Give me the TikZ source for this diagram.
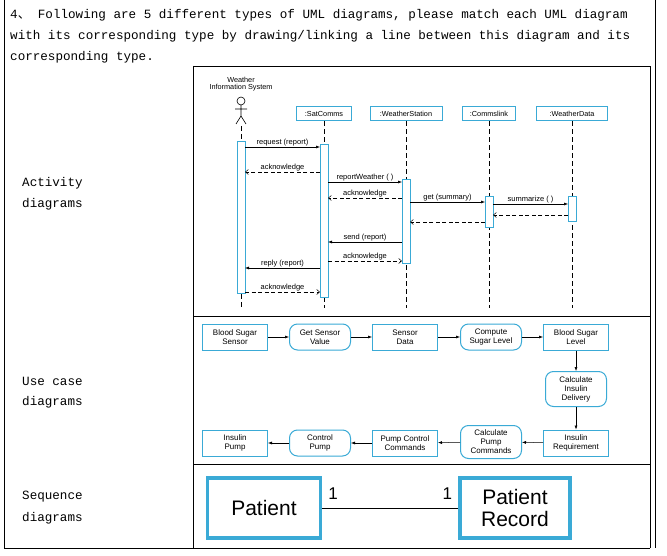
\documentclass[tikz,border=0pt]{standalone}
\usepackage{fontspec}
\setmainfont{Liberation Sans}
\newfontfamily\mono{Liberation Mono}
\newfontfamily\cjk{Noto Sans CJK SC}
\usetikzlibrary{arrows.meta}
\definecolor{umlblue}{HTML}{3AAAD6}
\begin{document}
\begin{tikzpicture}[x=1pt,y=-1pt,
  hd/.style={anchor=west,inner sep=0,font=\mono\fontsize{12.6}{14}\selectfont},
  obj/.style={draw=umlblue,line width=1pt,fill=white,minimum height=14pt,inner sep=1pt,font=\fontsize{7.3}{8}\selectfont},
  act/.style={draw=umlblue,line width=1pt,fill=white},
  life/.style={dash pattern=on 5pt off 3pt,line width=0.5pt},
  msg/.style={-{Latex[length=4pt,width=3pt]},line width=0.5pt},
  ret/.style={-{Straight Barb[length=3pt,width=5pt]},dash pattern=on 4pt off 2.5pt,line width=0.5pt},
  ml/.style={font=\fontsize{7.5}{8}\selectfont,inner sep=1pt,anchor=south},
  fb/.style={draw=umlblue,line width=1pt,fill=white,align=center,font=\fontsize{8}{9}\selectfont,inner sep=0,minimum width=65pt,minimum height=26pt},
  fr/.style={fb,rounded corners=8pt,minimum width=61pt},
  fa/.style={-{Latex[length=4pt,width=3pt]},line width=0.5pt},
  cb/.style={draw=umlblue,line width=3.5pt,fill=white,align=center,font=\fontsize{21}{24}\selectfont,inner sep=0}]
\useasboundingbox (0,0) rectangle (667,556);
\fill[white] (0,0) rectangle (667,556);
% table
\draw[line width=0.8pt] (4,0) -- (4,548) -- (650,548);
\draw[line width=0.8pt] (655,0) -- (655,548);
\draw[line width=0.8pt] (193,66) -- (650,66) -- (650,548);
\draw[line width=0.8pt] (193,66) -- (193,548);
\draw[line width=0.8pt] (193,316) -- (650,316);
\draw[line width=0.8pt] (193,464) -- (650,464);
\node[hd] (h1) at (10,15) {4{\cjk 、} Following are 5 different types of UML diagrams, please match each UML diagram};
\node[hd] (h2) at (10,36) {with its corresponding type by drawing/linking a line between this diagram and its};
\node[hd] (h3) at (10,57) {corresponding type.};
\node[hd] (l1) at (22,183) {Activity};
\node[hd] (l2) at (22,204) {diagrams};
\node[hd] (l3) at (22,381) {Use case};
\node[hd] (l4) at (22,402) {diagrams};
\node[hd] (l5) at (22,497) {Sequence};
\node[hd] (l6) at (22,518) {diagrams};
% ---------- sequence diagram
\node[font=\fontsize{7.3}{8}\selectfont,align=center,inner sep=0] (actl) at (241,84) {Weather\\[-1pt]Information System};
\draw[line width=0.6pt] (241,101) circle (4);
\draw[line width=0.6pt] (241,105) -- (241,116) (235,109) -- (247,109) (236,124) -- (241,116) -- (246,124);
\coordinate (aT) at (241,126);
\node[obj,minimum width=55pt] (o1) at (324,114) {:SatComms};
\node[obj,minimum width=72pt] (o2) at (406,114) {:WeatherStation};
\node[obj,minimum width=53pt] (o3) at (489,114) {:Commslink};
\node[obj,minimum width=71pt] (o4) at (572,114) {:WeatherData};
\coordinate (aB) at (241,308);
\coordinate (b1) at (324,308);\coordinate (b2) at (406,308);\coordinate (b3) at (489,308);\coordinate (b4) at (572,308);
\draw[life] (aT) -- (aB);
\draw[life] (o1.south) -- (b1);
\draw[life] (o2.south) -- (b2);
\draw[life] (o3.south) -- (b3);
\draw[life] (o4.south) -- (b4);
\draw[act] (237,142) rectangle (245,294);
\draw[act] (320,145) rectangle (328,298);
\draw[act] (402,180) rectangle (410,264);
\draw[act] (485,197) rectangle (493,228);
\draw[act] (568,197) rectangle (576,222);
\draw[msg] (245,147) -- node[ml] {request (report)} (320,147);
\draw[ret] (320,172) -- node[ml] {acknowledge} (245,172);
\draw[msg] (328,182) -- node[ml] {reportWeather ( )} (402,182);
\draw[ret] (402,198) -- node[ml] {acknowledge} (328,198);
\draw[msg] (410,202) -- node[ml] {get (summary)} (485,202);
\draw[msg] (493,204) -- node[ml] {summarize ( )} (568,204);
\draw[ret] (568,215) -- (493,215);
\draw[ret] (485,222) -- (410,222);
\draw[msg] (402,242) -- node[ml] {send (report)} (328,242);
\draw[ret] (328,261) -- node[ml] {acknowledge} (402,261);
\draw[msg] (320,268) -- node[ml] {reply (report)} (245,268);
\draw[ret] (245,292) -- node[ml] {acknowledge} (320,292);
% ---------- flow diagram
\node[fb] (f1) at (235,337) {Blood Sugar\\Sensor};
\node[fr] (f2) at (320,337) {Get Sensor\\Value};
\node[fb] (f3) at (405,337) {Sensor\\Data};
\node[fr] (f4) at (491,337) {Compute\\Sugar Level};
\node[fb] (f5) at (576,337) {Blood Sugar\\Level};
\node[fr,minimum height=35pt] (f6) at (576,389) {Calculate\\Insulin\\Delivery};
\node[fb] (f7) at (576,443) {Insulin\\Requirement};
\node[fr,minimum height=33pt] (f8) at (491,442) {Calculate\\Pump\\Commands};
\node[fb] (f9) at (405,443) {Pump Control\\Commands};
\node[fr] (f10) at (320,443) {Control\\Pump};
\node[fb] (f11) at (235,443) {Insulin\\Pump};
\draw[fa] (f1) -- (f2);\draw[fa] (f2) -- (f3);\draw[fa] (f3) -- (f4);\draw[fa] (f4) -- (f5);
\draw[fa] (f5) -- (f6);\draw[fa] (f6) -- (f7);
\draw[fa] (f7) -- (f8);\draw[fa] (f8) -- (f9);\draw[fa] (f9) -- (f10);\draw[fa] (f10) -- (f11);
% ---------- class diagram
\node[cb,minimum width=113pt,minimum height=60pt] (p1) at (264,508) {Patient};
\node[cb,minimum width=110pt,minimum height=60pt] (p2) at (515,508) {Patient\\[-2pt]Record};
\draw[line width=0.7pt] (p1) -- node[pos=0.08,above=5pt,font=\fontsize{17}{20}\selectfont] {1} node[pos=0.92,above=5pt,font=\fontsize{17}{20}\selectfont] {1} (p2);
\end{tikzpicture}
\end{document}
